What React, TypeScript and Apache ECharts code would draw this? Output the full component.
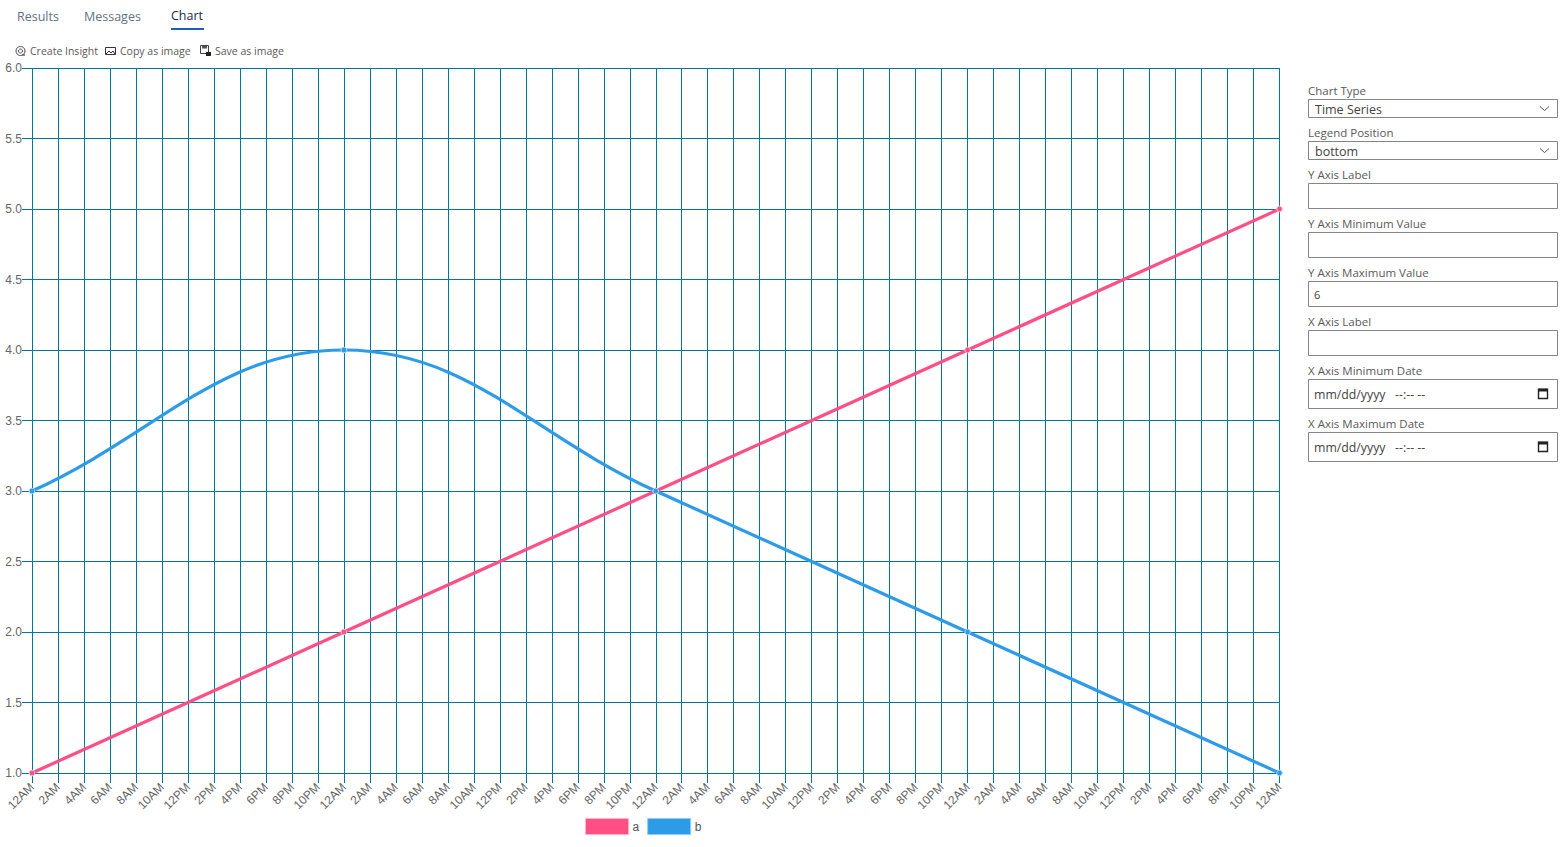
import React, { useEffect, useRef } from "react";
import * as echarts from "echarts";

const hours = [0, 24, 48, 72, 96];
const seriesA = [1, 2, 3, 4, 5];
const seriesB = [3, 4, 3, 2, 1];
const dayLabels = ["12AM", "2AM", "4AM", "6AM", "8AM", "10AM", "12PM", "2PM", "4PM", "6PM", "8PM", "10PM"];

const UI_FONT = "'Open Sans', 'Noto Sans', sans-serif";
const GRID_COLOR = "#007896";
const PINK = "#ff4f85";
const BLUE = "#2d9be8";
const TENSION = 0.4;

const tabs = [
  { text: "Results", x: 17, y: 16, fill: "#66707f" },
  { text: "Messages", x: 84, y: 16, fill: "#66707f" },
  { text: "Chart", x: 171, y: 15, fill: "#1b2a4a" },
];
const tools = [
  { text: "Create Insight", x: 30 },
  { text: "Copy as image", x: 120 },
  { text: "Save as image", x: 215 },
];
const fields = [
  { label: "Chart Type", ly: 90, y: 99, h: 19, value: "Time Series", kind: "select" },
  { label: "Legend Position", ly: 132, y: 141, h: 19, value: "bottom", kind: "select" },
  { label: "Y Axis Label", ly: 174, y: 183, h: 26, value: "", kind: "input" },
  { label: "Y Axis Minimum Value", ly: 223, y: 232, h: 26, value: "", kind: "input" },
  { label: "Y Axis Maximum Value", ly: 272, y: 281, h: 26, value: "6", kind: "input" },
  { label: "X Axis Label", ly: 321, y: 330, h: 26, value: "", kind: "input" },
  { label: "X Axis Minimum Date", ly: 370, y: 379, h: 30, value: "mm/dd/yyyy   --:-- --", kind: "date" },
  { label: "X Axis Maximum Date", ly: 423, y: 432, h: 30, value: "mm/dd/yyyy   --:-- --", kind: "date" },
];

function uiText(text: string, x: number, y: number, fill: string, fontSize: number) {
  return {
    type: "text",
    x,
    y,
    style: { text, fill, font: `${fontSize}px ${UI_FONT}`, textVerticalAlign: "middle", textBaseline: "middle" },
  };
}

function buildGraphics() {
  const els: any[] = [];
  tabs.forEach((t) => els.push(uiText(t.text, t.x, t.y, t.fill, 12.5)));
  els.push({ type: "rect", shape: { x: 171, y: 28, width: 33, height: 2 }, style: { fill: "#1a5fbf" } });
  tools.forEach((t) => els.push(uiText(t.text, t.x, 51, "#5a5a5a", 10.5)));

  // toolbar icons
  els.push({ type: "circle", shape: { cx: 20.5, cy: 51, r: 4.5 }, style: { fill: "none", stroke: "#444", lineWidth: 1 } });
  els.push({ type: "circle", shape: { cx: 20.5, cy: 51, r: 2 }, style: { fill: "none", stroke: "#444", lineWidth: 1 } });
  els.push({ type: "line", shape: { x1: 22, y1: 55, x2: 25, y2: 55 }, style: { stroke: "#333", lineWidth: 1 } });
  els.push({ type: "rect", shape: { x: 105.5, y: 47.5, width: 10, height: 7 }, style: { fill: "none", stroke: "#333", lineWidth: 1 } });
  els.push({ type: "polyline", shape: { points: [[106, 54], [109, 51], [111, 53], [113, 51], [115, 54]] }, style: { fill: "none", stroke: "#333", lineWidth: 1 } });
  els.push({ type: "rect", shape: { x: 200.5, y: 45.5, width: 8, height: 8 }, style: { fill: "none", stroke: "#444", lineWidth: 1 } });
  els.push({ type: "rect", shape: { x: 202, y: 46, width: 5, height: 2.5 }, style: { fill: "#555" } });
  els.push({ type: "rect", shape: { x: 206, y: 52, width: 5, height: 4 }, style: { fill: "#222" } });

  // settings panel
  fields.forEach((f) => {
    els.push(uiText(f.label, 1308, f.ly, "#5a5a5a", 11.5));
    els.push({
      type: "rect",
      shape: { x: 1308.5, y: f.y + 0.5, width: 249, height: f.h - 1 },
      style: { fill: "#fff", stroke: "#858585", lineWidth: 1 },
    });
    const midY = f.y + f.h / 2;
    if (f.value) {
      const isSelect = f.kind === "select";
      const isDate = f.kind === "date";
      els.push(uiText(f.value, isSelect ? 1315 : 1314, midY + (isSelect ? 1 : 0), "#444", isSelect ? 12.5 : isDate ? 12.3 : 11));
    }
    if (f.kind === "select") {
      els.push({
        type: "polyline",
        shape: { points: [[1540, midY - 2], [1544.5, midY + 2], [1549, midY - 2]] },
        style: { fill: "none", stroke: "#555", lineWidth: 1 },
      });
    }
    if (f.kind === "date") {
      els.push({ type: "rect", shape: { x: 1538.5, y: midY - 4.5, width: 9, height: 9 }, style: { fill: "none", stroke: "#222", lineWidth: 1.4 } });
      els.push({ type: "rect", shape: { x: 1538, y: midY - 5.5, width: 10, height: 3 }, style: { fill: "#222" } });
    }
  });
  return els;
}

function hourLabel(value: number) {
  return dayLabels[(value / 2) % 12];
}

// Spline through the series' points: every coordinate comes from the axes.
function splineSeries(name: string, values: number[], color: string, soft: string) {
  return {
    name,
    type: "custom",
    data: hours.map((h, i) => [h, values[i]]),
    encode: { x: 0, y: 1 },
    clip: false,
    z: 5,
    itemStyle: { color },
    renderItem: (params: any, api: any) => {
      const i = params.dataIndex;
      const pts = hours.map((h, k) => api.coord([h, values[k]]));
      const last = pts.length - 1;
      const controls = (k: number) => {
        const cur = pts[k];
        const prev = pts[Math.max(k - 1, 0)];
        const next = pts[Math.min(k + 1, last)];
        const d01 = Math.hypot(cur[0] - prev[0], cur[1] - prev[1]);
        const d12 = Math.hypot(next[0] - cur[0], next[1] - cur[1]);
        const fa = (d01 / (d01 + d12)) * TENSION;
        const fb = (d12 / (d01 + d12)) * TENSION;
        return {
          before: [cur[0] - fa * (next[0] - prev[0]), cur[1] - fa * (next[1] - prev[1])],
          after: [cur[0] + fb * (next[0] - prev[0]), cur[1] + fb * (next[1] - prev[1])],
        };
      };
      const children: any[] = [];
      if (i < last) {
        const a = controls(i).after;
        const b = controls(i + 1).before;
        children.push({
          type: "bezierCurve",
          shape: {
            x1: pts[i][0], y1: pts[i][1],
            x2: pts[i + 1][0], y2: pts[i + 1][1],
            cpx1: a[0], cpy1: a[1],
            cpx2: b[0], cpy2: b[1],
          },
          style: { fill: "none", stroke: color, lineWidth: 3.2, lineCap: "round" },
          z2: 1,
        });
      }
      children.push({
        type: "circle",
        shape: { cx: pts[i][0], cy: pts[i][1], r: 2.8 },
        style: { fill: color, stroke: soft, lineWidth: 1 },
        z2: 2,
      });
      return { type: "group", children };
    },
  };
}

export default function App() {
  const ref = useRef<HTMLDivElement>(null);
  useEffect(() => {
    document.body.style.margin = "0";
    document.body.style.overflow = "hidden";
    const chart = echarts.init(ref.current!, undefined, { renderer: "svg" });
    chart.setOption({
      animation: false,
      backgroundColor: "#fff",
      textStyle: { fontFamily: "'Liberation Sans', Arial, sans-serif" },
      grid: { left: 32, top: 68, width: 1247.5, height: 705, containLabel: false },
      xAxis: {
        type: "value",
        min: 0,
        max: 96,
        interval: 2,
        axisLine: { show: false },
        axisTick: { show: true, length: 10, lineStyle: { color: GRID_COLOR, width: 1 } },
        splitLine: { show: true, lineStyle: { color: GRID_COLOR, width: 1 } },
        axisLabel: {
          rotate: 45,
          color: "#666",
          fontSize: 12,
          margin: 12,
          showMinLabel: true,
          showMaxLabel: true,
          hideOverlap: false,
          interval: 0,
          formatter: hourLabel,
        },
      },
      yAxis: {
        type: "value",
        min: 1,
        max: 6,
        interval: 0.5,
        axisLine: { show: false },
        axisTick: { show: true, length: 10, lineStyle: { color: GRID_COLOR, width: 1 } },
        splitLine: { show: true, lineStyle: { color: GRID_COLOR, width: 1 } },
        axisLabel: { color: "#666", fontSize: 12, margin: 10, formatter: (v: number) => v.toFixed(1) },
      },
      legend: {
        left: 585,
        top: 818,
        padding: 0,
        itemWidth: 43,
        itemHeight: 16,
        itemGap: 8,
        icon: "rect",
        textStyle: { color: "#555", fontSize: 12, padding: [0, 0, 0, -1] },
        data: [
          { name: "a", itemStyle: { color: PINK, borderColor: "#ffb3c9", borderWidth: 1 } },
          { name: "b", itemStyle: { color: BLUE, borderColor: "#8fcbf3", borderWidth: 1 } },
        ],
      },
      series: [
        splineSeries("a", seriesA, PINK, "#ffc2d4"),
        splineSeries("b", seriesB, BLUE, "#a9d8f7"),
      ],
      graphic: { elements: buildGraphics() },
    });
    return () => chart.dispose();
  }, []);
  return <div ref={ref} style={{ width: 1565, height: 847 }} />;
}
